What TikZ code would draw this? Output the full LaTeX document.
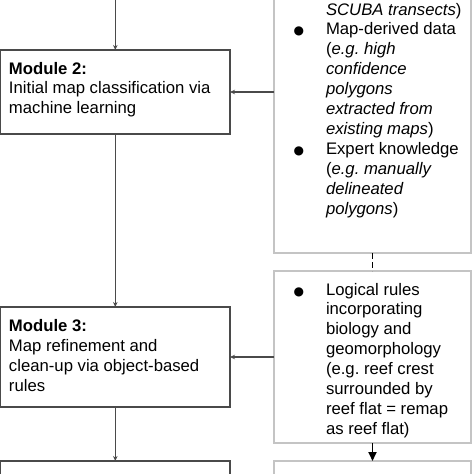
\documentclass[tikz,border=0pt]{standalone}
\usepackage{fontspec}
\setmainfont{Liberation Sans}
\newfontfamily\symfnt{DejaVu Sans}
\usetikzlibrary{arrows.meta}
\definecolor{boxdark}{HTML}{4A4A4A}
\definecolor{boxlight}{HTML}{C4C4C4}
\newcommand{\bulmark}{{\symfnt\fontsize{12}{12}\selectfont ●}}
\frenchspacing
\begin{document}
\begin{tikzpicture}[x=1pt,y=-1pt,
  darkbox/.style={draw=boxdark, line width=1.3pt, inner sep=0pt, outer sep=0pt, anchor=north west},
  lightbox/.style={draw=boxlight, line width=1.4pt, inner sep=0pt, outer sep=0pt, anchor=north west},
  conn/.style={draw=boxdark, line width=1.3pt, -{Stealth[length=5pt,width=4.5pt]}},
  dashline/.style={draw=black, line width=1.8pt, dash pattern=on 6pt off 3pt},
  bigarrow/.style={draw=black, line width=1.8pt, -{Triangle[length=9pt,width=8pt]}},
  txt/.style={anchor=base west, inner sep=0pt, outer sep=0pt, font=\fontsize{16.7}{19.9}\selectfont}
]
\useasboundingbox (0,0) rectangle (474,474);
% left column boxes
\node[darkbox, minimum width=229.4pt, minimum height=84pt] (m2) at (0.6,50) {};
\node[darkbox, minimum width=229.4pt, minimum height=100pt] (m3) at (0.6,307) {};
\node[darkbox, minimum width=229.4pt, minimum height=40pt] (m4) at (0.6,461) {};
% right column boxes
\node[lightbox, minimum width=197pt, minimum height=273pt] (r1) at (274,-20) {};
\node[lightbox, minimum width=197pt, minimum height=172pt] (r2) at (274,271) {};
\node[lightbox, minimum width=197pt, minimum height=40pt] (r3) at (274,461) {};
% texts
\node[txt] (t2) at (9,74) {\begin{tabular}[t]{@{}l@{}}\textbf{Module 2:}\\Initial map classification via\\machine learning\end{tabular}};
\node[txt] (t3) at (9,331.5) {\begin{tabular}[t]{@{}l@{}}\textbf{Module 3:}\\Map refinement and\\clean-up via object-based\\rules\end{tabular}};
\node[txt] (tr1) at (293.5,15) {\begin{tabular}[t]{@{}p{32.5pt}@{}l@{}}
 & \textit{SCUBA transects})\\
\bulmark & Map-derived data\\
 & (\textit{e.g. high}\\
 & \textit{confidence}\\
 & \textit{polygons}\\
 & \textit{extracted from}\\
 & \textit{existing maps})\\
\bulmark & Expert knowledge\\
 & (\textit{e.g. manually}\\
 & \textit{delineated}\\
 & \textit{polygons})
\end{tabular}};
\node[txt] (tr2) at (293.5,295) {\begin{tabular}[t]{@{}p{32.5pt}@{}l@{}}
\bulmark & Logical rules\\
 & incorporating\\
 & biology and\\
 & geomorphology\\
 & (e.g. reef crest\\
 & surrounded by\\
 & reef flat = remap\\
 & as reef flat)
\end{tabular}};
% connectors
\coordinate (start) at (115.3,0);
\draw[conn] (start) -- (m2.north);
\draw[conn] (m2.south) -- (m3.north);
\draw[conn] (m3.south) -- (m4.north);
\draw[conn] (r1.west |- m2.east) -- (m2.east);
\draw[conn] (r2.west |- m3.east) -- (m3.east);
\draw[dashline] (r1.south) -- (r2.north);
\draw[bigarrow] (r2.south) -- (r3.north);
\end{tikzpicture}
\end{document}
